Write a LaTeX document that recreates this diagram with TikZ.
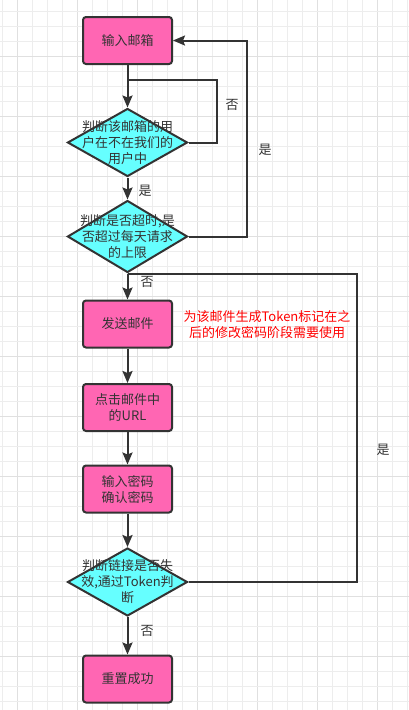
\documentclass[tikz,border=0pt]{standalone}
\usepackage{fontspec}
\setmainfont{Noto Sans CJK SC}
\usepackage{xcolor}
\usetikzlibrary{shapes.geometric,arrows.meta,positioning}
\definecolor{boxpink}{HTML}{FF66B3}
\definecolor{diacyan}{HTML}{66FFFF}
\definecolor{edgegray}{HTML}{333333}
\tikzset{
	stepbox/.style={draw=edgegray, line width=2pt, fill=boxpink, rounded corners=3pt,
		minimum width=89pt, minimum height=47pt, align=center, text=edgegray},
	check/.style={draw=edgegray, line width=2pt, fill=diacyan, diamond, inner sep=0pt,
		minimum width=120pt, minimum height=68pt},
	checktext/.style={align=center, text=edgegray},
	flow/.style={draw=edgegray, line width=2pt, -{Stealth[length=12pt,width=10pt,inset=2pt]}},
	loop/.style={draw=edgegray, line width=2pt},
	answer/.style={text=edgegray}
}
\begin{document}
\begin{tikzpicture}[x=1pt, y=-1pt, font=\fontsize{13}{16}\selectfont]
	\useasboundingbox (0,0) rectangle (409,710);
	% grid
	\foreach \k in {0,...,27}
		\draw[gray!14, line width=0.8pt] (2.7+15*\k,0) -- (2.7+15*\k,710);
	\foreach \k in {1,5,...,25}
		\draw[gray!24, line width=0.8pt] (2.7+15*\k,0) -- (2.7+15*\k,710);
	\foreach \k in {0,...,46}
		\draw[gray!14, line width=0.8pt] (0,11.7+15*\k) -- (409,11.7+15*\k);
	\foreach \k in {3,7,...,43}
		\draw[gray!24, line width=0.8pt] (0,11.7+15*\k) -- (409,11.7+15*\k);

	\node[stepbox] (mail) at (127.5,40.5) {输入邮箱};
	\node[check, label={[checktext]center:判断该邮箱的用\\户在不在我们的\\用户中}] (user) at (127.5,142.5) {};
	\node[check, minimum height=72pt, label={[checktext]center:判断是否超时,是\\否超过每天请求\\的上限}] (limit) at (127.5,236.5) {};
	\node[stepbox] (send) at (127.5,324) {发送邮件};
	\node[stepbox] (click) at (127.5,407.5) {点击邮件中\\的URL};
	\node[stepbox] (pwd) at (127.5,489) {输入密码\\确认密码};
	\node[check, label={[checktext]center:判断链接是否失\\效,通过Token判\\断}] (token) at (127.5,582) {};
	\node[stepbox] (done) at (127.5,679) {重置成功};
	\node[text=red, align=center] (note) at (267,324.5) {为该邮件生成Token标记在之\\后的修改密码阶段需要使用};

	\coordinate (j1) at (127.5,80);
	\coordinate (r1) at (217,80);
	\coordinate (r2) at (247,40.5);
	\coordinate (j2) at (127.5,274);
	\coordinate (r3) at (357,274);

	\draw[flow] (mail) -- (user);
	\draw[loop] (user.east) -| (r1) -- (j1);
	\draw[flow] (user) -- (limit);
	\draw[flow] (limit.east) -| (r2) -- (mail.east);
	\draw[flow] (limit) -- (send);
	\draw[flow] (send) -- (click);
	\draw[flow] (click) -- (pwd);
	\draw[flow] (pwd) -- (token);
	\draw[loop] (token.east) -| (r3) -- (j2);
	\draw[flow] (token) -- (done);

	\node[answer] (no1) at (232,105) {否};
	\node[answer] (yes1) at (145,191) {是};
	\node[answer] (yes2) at (265,150) {是};
	\node[answer] (no2) at (147,282) {否};
	\node[answer] (yes3) at (383,450) {是};
	\node[answer] (no3) at (147,631) {否};
\end{tikzpicture}
\end{document}
